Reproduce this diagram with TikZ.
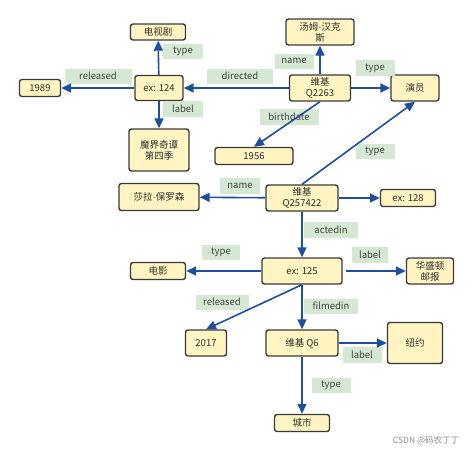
\documentclass[tikz,border=0pt]{standalone}
\usepackage{fontspec}
\setmainfont{Noto Sans CJK SC}
\newfontfamily\dotfont{Liberation Sans}
\newcommand{\mdot}{{\dotfont ·}}
\usetikzlibrary{arrows.meta}
\definecolor{nodefill}{HTML}{FFF4C2}
\definecolor{nodeline}{HTML}{3A3A3A}
\definecolor{edgeblue}{HTML}{1F4E9E}
\definecolor{lblfill}{HTML}{D5E8D4}
\definecolor{txt}{HTML}{2E2E2E}
\tikzset{
  ent/.style={draw=nodeline, fill=nodefill, line width=1.4pt, rounded corners=2.5pt,
    inner sep=0pt, align=center, font=\fontsize{9.5}{11}\selectfont, text=txt},
  lbl/.style={fill=lblfill, inner sep=0pt, font=\fontsize{9.5}{11}\selectfont, text=txt!90},
  rel/.style={draw=edgeblue, line width=1.6pt, -{Triangle[length=10pt,width=9pt]}},
}
\begin{document}
\begin{tikzpicture}[x=1pt,y=-1pt]
\useasboundingbox (0,0) rectangle (474,451);
% entity nodes
\node[ent, minimum width=55pt, minimum height=16pt] (tv) at (158,32) {电视剧};
\node[ent, minimum width=48pt, minimum height=25pt] (e124) at (159,88) {ex: 124};
\node[ent, minimum width=41pt, minimum height=17pt] (y1989) at (40,88) {1989};
\node[ent, minimum width=60pt, minimum height=42pt] (mjqt) at (159,150) {魔界奇谭\\第四季};
\node[ent, minimum width=68pt, minimum height=26pt] (tom) at (320,32) {汤姆\mdot 汉克\\斯};
\node[ent, minimum width=61pt, minimum height=26pt] (q2263) at (320,88) {维基\\Q2263};
\node[ent, minimum width=48pt, minimum height=26pt] (actor) at (415,88) {演员};
\node[ent, minimum width=78pt, minimum height=17pt] (y1956) at (254,156) {1956};
\node[ent, minimum width=80pt, minimum height=27pt] (sarah) at (159,197) {莎拉\mdot 保罗森};
\node[ent, minimum width=72pt, minimum height=26pt] (q257) at (302,198) {维基\\Q257422};
\node[ent, minimum width=55pt, minimum height=17pt] (e128) at (408,198) {ex: 128};
\node[ent, minimum width=55pt, minimum height=17pt] (movie) at (158,271) {电影};
\node[ent, minimum width=80pt, minimum height=26pt] (e125) at (302,271) {ex: 125};
\node[ent, minimum width=47pt, minimum height=26pt] (wp) at (430,271) {华盛顿\\邮报};
\node[ent, minimum width=41pt, minimum height=26pt] (y2017) at (206,343) {2017};
\node[ent, minimum width=72pt, minimum height=26pt] (q6) at (302,343) {维基 Q6};
\node[ent, minimum width=55pt, minimum height=41pt] (ny) at (415,343) {纽约};
\node[ent, minimum width=55pt, minimum height=17pt] (city) at (302,423) {城市};
% edge label boxes
\node[lbl, minimum width=40pt, minimum height=15pt] (l1) at (183,51) {type};
\node[lbl, minimum width=67pt, minimum height=15pt] (l2) at (98,76) {released};
\node[lbl, minimum width=40pt, minimum height=16pt] (l3) at (183,109) {label};
\node[lbl, minimum width=66pt, minimum height=15pt] (l4) at (240,76) {directed};
\node[lbl, minimum width=39pt, minimum height=15pt] (l5) at (294,61) {name};
\node[lbl, minimum width=39pt, minimum height=16pt] (l6) at (375,68) {type};
\node[lbl, minimum width=59pt, minimum height=16pt] (l7) at (289,117) {birthdate};
\node[lbl, minimum width=39pt, minimum height=15pt] (l8) at (375,151) {type};
\node[lbl, minimum width=40pt, minimum height=16pt] (l9) at (240,186) {name};
\node[lbl, minimum width=54pt, minimum height=16pt] (l10) at (331,230) {actedin};
\node[lbl, minimum width=38pt, minimum height=15pt] (l11) at (221,252) {type};
\node[lbl, minimum width=36pt, minimum height=16pt] (l12) at (370,255) {label};
\node[lbl, minimum width=53pt, minimum height=15pt] (l13) at (222,302) {released};
\node[lbl, minimum width=54pt, minimum height=15pt] (l14) at (331,306) {filmedin};
\node[lbl, minimum width=39pt, minimum height=16pt] (l15) at (362,355) {label};
\node[lbl, minimum width=39pt, minimum height=15pt] (l16) at (331,385) {type};
% watermark
\node[text=black!45, font=\fontsize{8.5}{10}\selectfont, inner sep=0pt] (wm) at (426,441) {CSDN @码农丁丁};
% connectors
\draw[rel] (e124) -- (tv);
\draw[rel] (e124) -- (y1989);
\draw[rel] (e124) -- (mjqt);
\draw[rel] (q2263) -- (e124);
\draw[rel] (q2263) -- (tom);
\draw[rel] (q2263) -- (actor);
\draw[rel] (q2263.south) -- (y1956.north);
\draw[rel] (q257.north) -- (actor.south);
\draw[rel] (q257) -- (sarah);
\draw[rel] (q257.east) -- (e128.west);
\draw[rel] (q257) -- (e125);
\draw[rel] (e125) -- (movie);
\draw[rel, shorten <=3pt] (e125) -- (wp);
\draw[rel] (e125.south) -- (y2017.north);
\draw[rel] (e125) -- (q6);
\draw[rel] (q6) -- (ny);
\draw[rel] (q6) -- (city);
\end{tikzpicture}
\end{document}
